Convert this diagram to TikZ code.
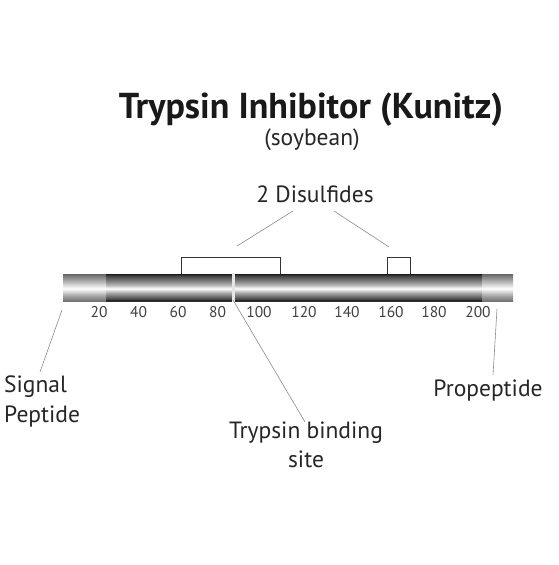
\documentclass[tikz,border=0pt]{standalone}
\usepackage{fontspec}
\setmainfont{PT Sans}
\pgfdeclareverticalshading{tubemain}{100bp}{color(0bp)=(black); color(25bp)=(black!82); color(30bp)=(black!68); color(40bp)=(black!35); color(48bp)=(white); color(55bp)=(black!30); color(64bp)=(black!55); color(72bp)=(black!75); color(75bp)=(black!88); color(100bp)=(black)}
\pgfdeclareverticalshading{tubeend}{100bp}{color(0bp)=(black!60); color(25bp)=(black!55); color(35bp)=(black!35); color(48bp)=(white); color(58bp)=(black!22); color(68bp)=(black!45); color(75bp)=(black!60); color(100bp)=(black!60)}
\tikzset{
  lbl/.style={inner sep=0pt, anchor=base, font=\fontsize{23.5}{28}\selectfont, text=black!85},
  tick/.style={inner sep=0pt, anchor=base, font=\fontsize{15.5}{18}\selectfont, text=black!75},
  leader/.style={draw=black!45, line width=0.6pt},
  bond/.style={draw=black!80, line width=0.8pt}
}
\begin{document}
\begin{tikzpicture}[x=1pt,y=-1pt]
\useasboundingbox[fill=white] (0,0) rectangle (559,565);
% title
\node[inner sep=0pt, anchor=base, font=\fontsize{36}{40}\bfseries\selectfont, text=black!90] (title) at (311,118) {Trypsin Inhibitor (Kunitz)};
\node[lbl] (soy) at (312,145) {(soybean)};
% disulfide bonds
\draw[bond] (181,274) -- (181,257) -- (280,257) -- (280,274);
\draw[bond] (387,274) -- (387,257) -- (410,257) -- (410,274);
% tube
\shade[shading=tubemain] (106,274) rectangle (482,301);
\shade[shading=tubeend] (63,274) rectangle (106,301);
\shade[shading=tubeend] (482,274) rectangle (513,301);
\draw[black!90, line width=0.9pt] (106,274.5) -- (482,274.5);
\draw[black!85, line width=0.9pt] (106,300.5) -- (482,300.5);
\fill[white!90!black] (232,273) rectangle (234.5,302);
% nodes
\coordinate (site) at (233,300);
\coordinate (sig) at (62,310);
\coordinate (pro) at (497,309);
\coordinate (b1) at (237,246);
\coordinate (b2) at (389,247);
\node[lbl] (dis) at (315,202) {2 Disulfides};
\draw[leader] (293,211) -- (b1);
\draw[leader] (334,211) -- (b2);
% ticks
\foreach \v/\x in {20/99,40/138.5,60/178,80/217.5,100/259,120/304,140/347,160/391,180/434,200/478}
  \node[tick] (t\v) at (\x,317) {\v};
% labels
\node[lbl, anchor=base west] (signal1) at (4,392) {Signal};
\node[lbl, anchor=base west] (signal2) at (4,422) {Peptide};
\draw[leader] (sig) -- (40,372);
\node[lbl] (tbs1) at (306,438) {Trypsin binding};
\node[lbl] (tbs2) at (306,467) {site};
\draw[leader] (site) -- (305,422);
\node[lbl] (prop) at (488,396) {Propeptide};
\draw[leader] (pro) -- (493,375);
\end{tikzpicture}
\end{document}
